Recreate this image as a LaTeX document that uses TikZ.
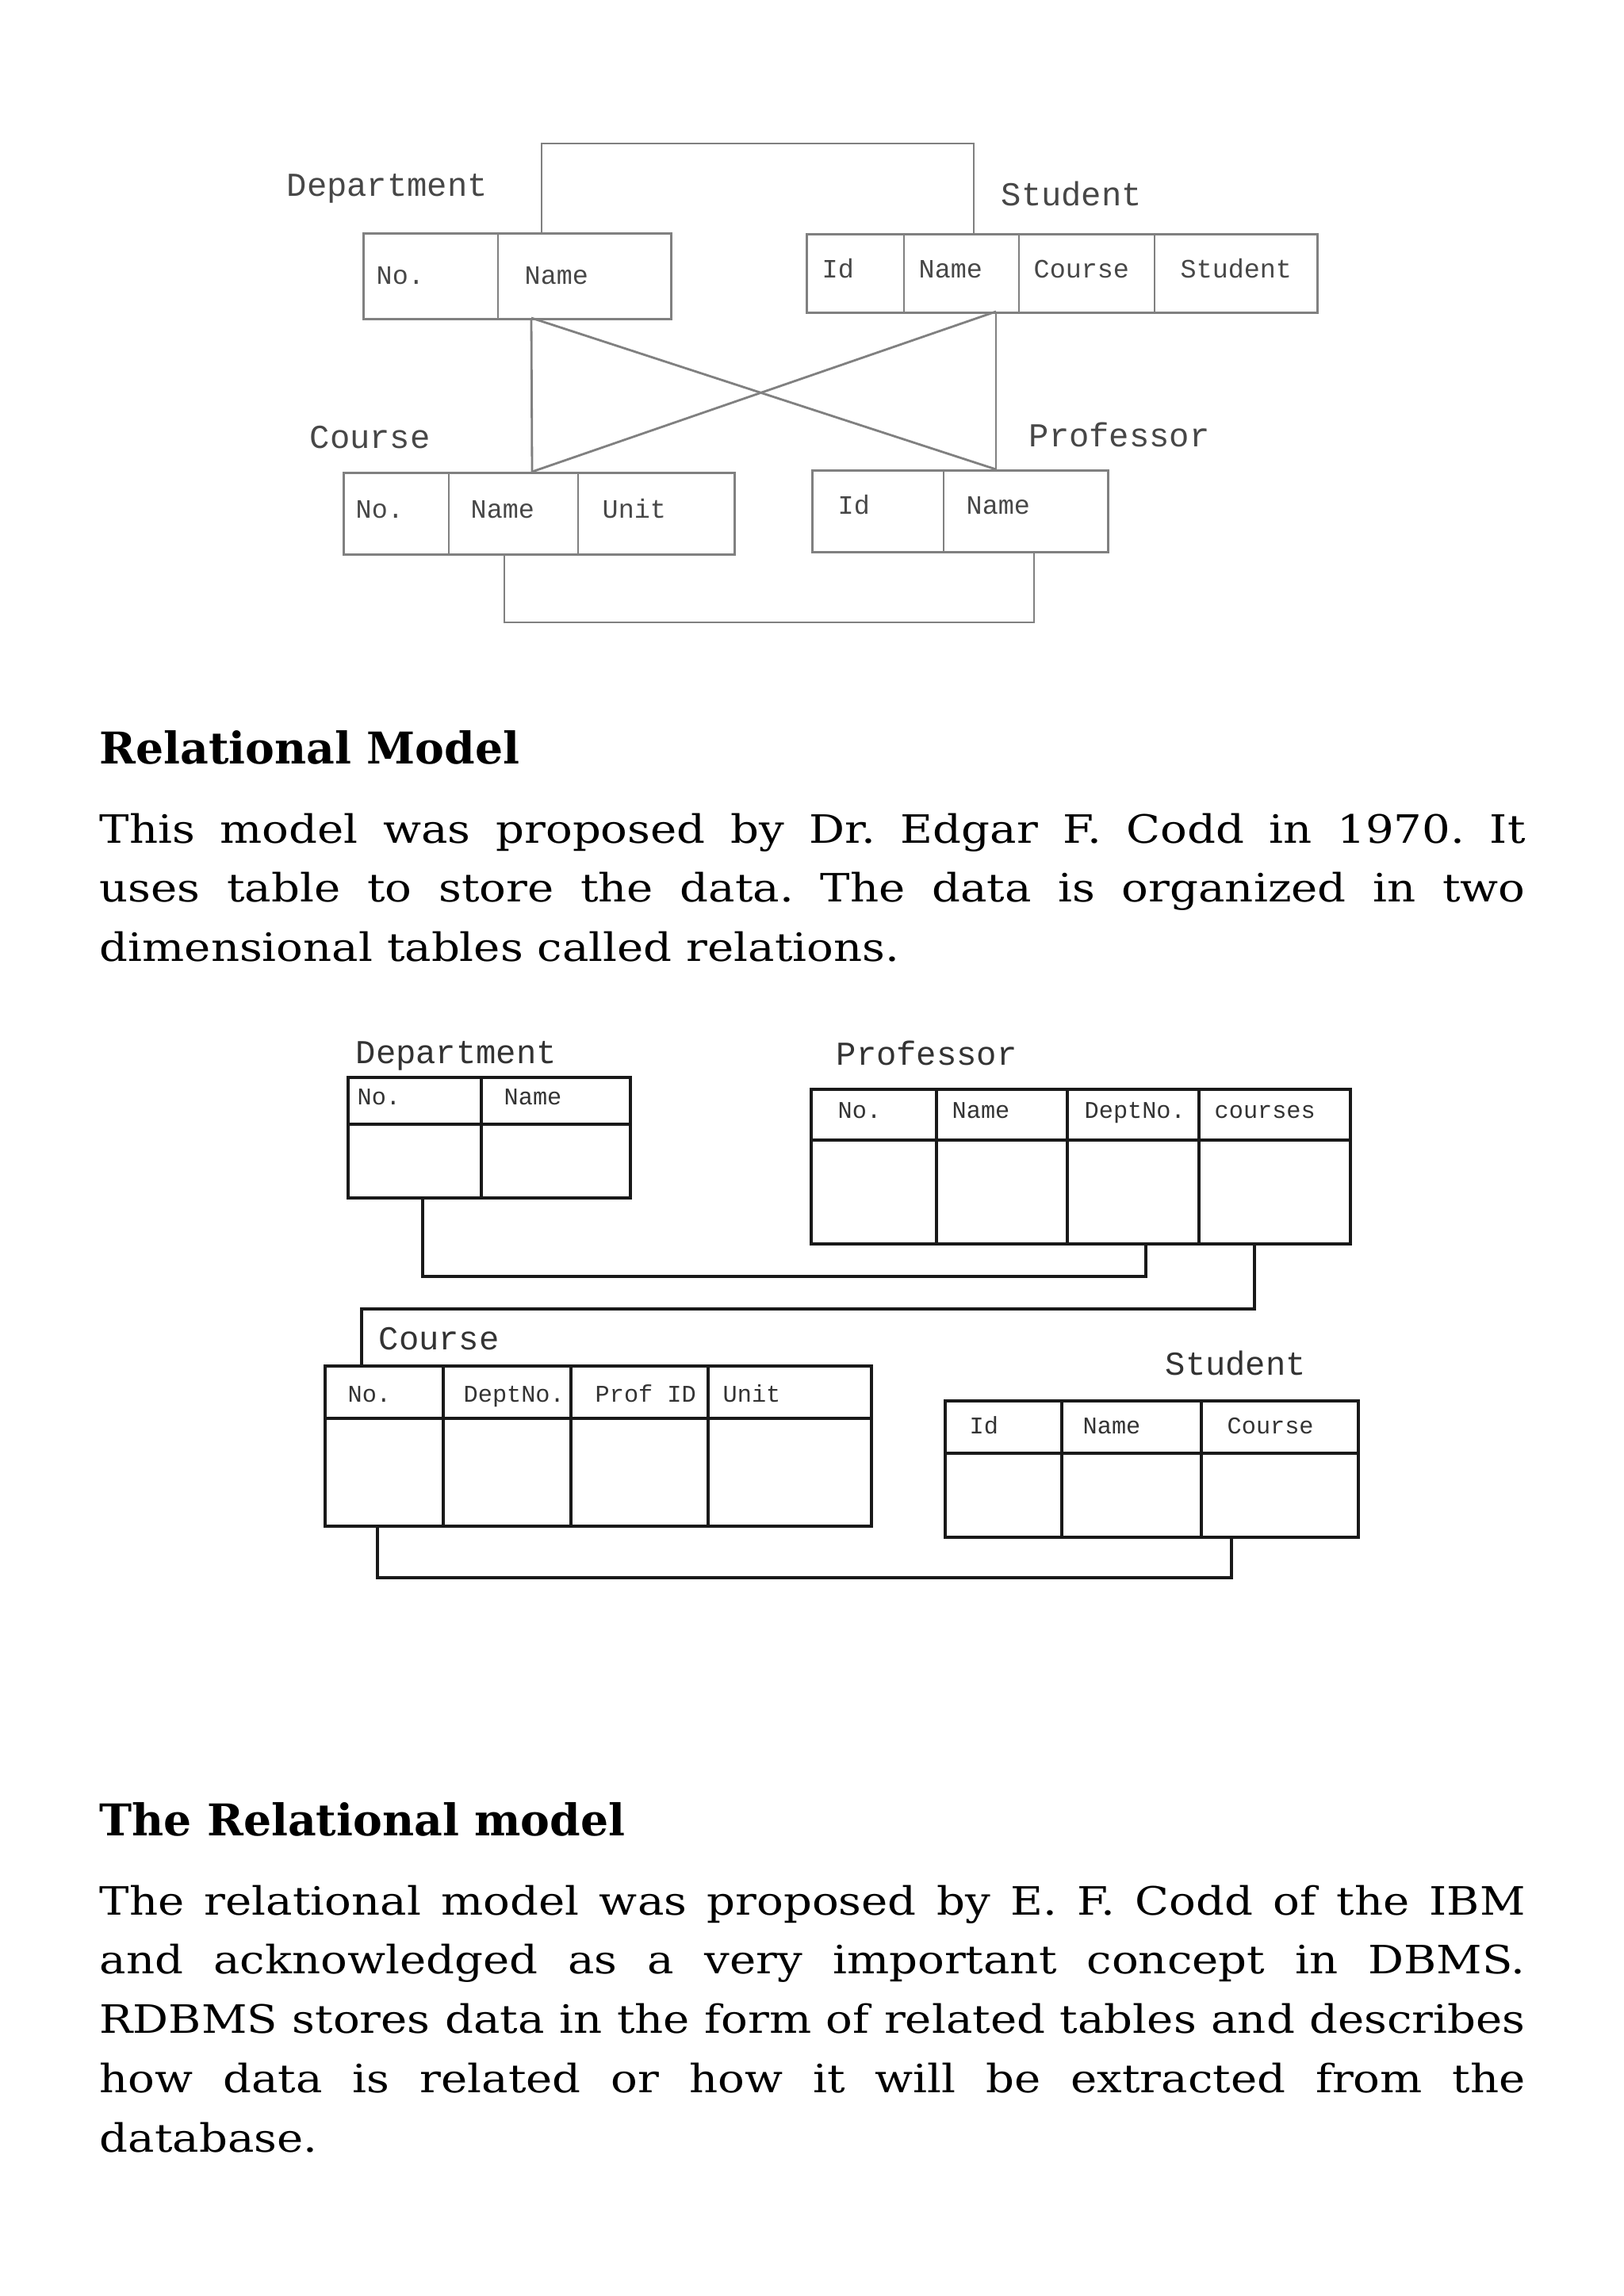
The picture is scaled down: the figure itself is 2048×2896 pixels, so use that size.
\documentclass[tikz,border=0pt]{standalone}
\usepackage{fontspec}
\setmainfont[FakeStretch=1.14]{DejaVu Serif}
\newfontfamily\headfont{DejaVu Serif}
\newfontfamily\courier{Liberation Mono}
\definecolor{oldline}{gray}{0.5}
\definecolor{oldtext}{gray}{0.28}
\definecolor{newline}{gray}{0.1}
\definecolor{newtext}{gray}{0.2}
\tolerance=10000
\frenchspacing
\tikzset{
  otable/.style={draw=oldline, line width=0.8pt, anchor=north west, inner sep=0pt},
  ntable/.style={draw=newline, line width=1pt, anchor=north west, inner sep=0pt},
  oline/.style={draw=oldline, line width=0.8pt},
  nline/.style={draw=newline, line width=1pt},
  olabel/.style={anchor=base west, inner sep=0pt, text=oldtext, font=\courier\fontsize{12pt}{14pt}\selectfont},
  nlabel/.style={olabel, text=newtext},
  ocell/.style={anchor=base west, inner sep=0pt, text=oldtext, font=\courier\fontsize{9.5pt}{11pt}\selectfont},
  ncell/.style={anchor=base west, inner sep=0pt, text=newtext, font=\courier\fontsize{8.6pt}{10pt}\selectfont},
  head/.style={anchor=base west, inner sep=0pt, font=\headfont\bfseries\fontsize{15.7pt}{18pt}\selectfont},
  para/.style={anchor=base west, inner sep=0pt, text width=17.97cm, align=justify,
    font=\fontsize{14pt}{21.3pt}\selectfont}
}
\begin{document}
\begin{tikzpicture}[x=0.01cm, y=-0.01cm]
        % ==== PAGE ====
        \fill[white] (0,0) rectangle (2048,2896);
        \useasboundingbox (0,0) rectangle (2048,2896);

        % ==== OLD DIAGRAM: DEPARTMENT ====
        \node[olabel] (o-dept) at (361,247) {Department};
        \node[otable, minimum width=3.88cm, minimum height=1.08cm] (odept) at (457,293) {};
        \draw[oline] (628,293) -- (628,401);
        \node[ocell] (od-no) at (474,358) {No.};
        \node[ocell] (od-name) at (661,358) {Name};

        % ==== OLD DIAGRAM: STUDENT ====
        \node[olabel] (o-stud) at (1262,259) {Student};
        \node[otable, minimum width=6.44cm, minimum height=0.99cm] (ostud) at (1016,294) {};
        \foreach \x in {1140,1285,1456}
            \draw[oline] (\x,294) -- (\x,393);
        \node[ocell] (os-id) at (1036,350) {Id};
        \node[ocell] (os-name) at (1158,350) {Name};
        \node[ocell] (os-course) at (1303,350) {Course};
        \node[ocell] (os-stud) at (1488,350) {Student};

        % ==== OLD DIAGRAM: COURSE ====
        \node[olabel] (o-course) at (390,565) {Course};
        \node[otable, minimum width=4.93cm, minimum height=1.03cm] (ocourse) at (432,595) {};
        \foreach \x in {566,729}
            \draw[oline] (\x,595) -- (\x,698);
        \node[ocell] (oc-no) at (448,653) {No.};
        \node[ocell] (oc-name) at (593,653) {Name};
        \node[ocell] (oc-unit) at (759,653) {Unit};

        % ==== OLD DIAGRAM: PROFESSOR ====
        \node[olabel] (o-prof) at (1297,563) {Professor};
        \node[otable, minimum width=3.73cm, minimum height=1.03cm] (oprof) at (1023,592) {};
        \draw[oline] (1190,592) -- (1190,695);
        \node[ocell] (op-id) at (1056,648) {Id};
        \node[ocell] (op-name) at (1218,648) {Name};

        % ==== OLD DIAGRAM: LINKS ====
        \coordinate (od-top) at (683,293);
        \coordinate (od-bot) at (670,401);
        \coordinate (os-top) at (1228,294);
        \coordinate (os-bot) at (1256,393);
        \coordinate (oc-top) at (671,595);
        \coordinate (oc-bot) at (636,698);
        \coordinate (op-top) at (1256,592);
        \coordinate (op-bot) at (1304,695);
        \coordinate (o-up) at (955,181);
        \coordinate (o-down) at (970,785);
        \draw[oline] (od-top) |- (o-up) -| (os-top);
        \draw[oline] (od-bot) -- (oc-top);
        \draw[oline] (od-bot) -- (op-top);
        \draw[oline] (os-bot) -- (oc-top);
        \draw[oline] (os-bot) -- (op-top);
        \draw[oline] (oc-bot) |- (o-down) -| (op-bot);

        % ==== TEXT: RELATIONAL MODEL ====
        \node[head] (h-one) at (125,963) {Relational Model};
        \node[para] (p-one) at (125,1063) {This model was proposed by Dr. Edgar F. Codd in 1970. It\linebreak
            uses table to store the data. The data is organized in two\linebreak
            dimensional tables called relations.};

        % ==== NEW DIAGRAM: DEPARTMENT ====
        \node[nlabel] (n-dept) at (448,1341) {Department};
        \node[ntable, minimum width=3.56cm, minimum height=1.52cm] (ndept) at (437,1357) {};
        \draw[nline] (607,1357) -- (607,1509);
        \draw[nline] (437,1418) -- (793,1418);
        \node[ncell] (nd-no) at (450,1393) {No.};
        \node[ncell] (nd-name) at (635,1393) {Name};

        % ==== NEW DIAGRAM: PROFESSOR ====
        \node[nlabel] (n-prof) at (1054,1343) {Professor};
        \node[ntable, minimum width=6.80cm, minimum height=1.95cm] (nprof) at (1021,1372) {};
        \foreach \x in {1181,1346,1512}
            \draw[nline] (\x,1372) -- (\x,1567);
        \draw[nline] (1021,1438) -- (1701,1438);
        \node[ncell] (np-no) at (1056,1410) {No.};
        \node[ncell] (np-name) at (1200,1410) {Name};
        \node[ncell] (np-dept) at (1367,1410) {DeptNo.};
        \node[ncell] (np-courses) at (1531,1410) {courses};

        % ==== NEW DIAGRAM: COURSE ====
        \node[nlabel] (n-course) at (477,1702) {Course};
        \node[ntable, minimum width=6.89cm, minimum height=2.02cm] (ncourse) at (408,1721) {};
        \foreach \x in {559,720,893}
            \draw[nline] (\x,1721) -- (\x,1923);
        \draw[nline] (408,1789) -- (1097,1789);
        \node[ncell] (nc-no) at (438,1768) {No.};
        \node[ncell] (nc-dept) at (584,1768) {DeptNo.};
        \node[ncell] (nc-prof) at (750,1768) {Prof ID};
        \node[ncell] (nc-unit) at (911,1768) {Unit};

        % ==== NEW DIAGRAM: STUDENT ====
        \node[nlabel] (n-stud) at (1469,1734) {Student};
        \node[ntable, minimum width=5.21cm, minimum height=1.72cm] (nstud) at (1190,1765) {};
        \foreach \x in {1339,1515}
            \draw[nline] (\x,1765) -- (\x,1937);
        \draw[nline] (1190,1833) -- (1711,1833);
        \node[ncell] (ns-id) at (1222,1808) {Id};
        \node[ncell] (ns-name) at (1365,1808) {Name};
        \node[ncell] (ns-course) at (1547,1808) {Course};

        % ==== NEW DIAGRAM: LINKS ====
        \coordinate (nd-bot) at (533,1509);
        \coordinate (np-bot1) at (1445,1567);
        \coordinate (np-bot2) at (1582,1567);
        \coordinate (nc-top) at (456,1721);
        \coordinate (nc-bot) at (476,1923);
        \coordinate (ns-bot) at (1553,1937);
        \coordinate (n-low1) at (990,1610);
        \coordinate (n-low2) at (1020,1651);
        \coordinate (n-low3) at (1015,1990);
        \draw[nline] (nd-bot) |- (n-low1) -| (np-bot1);
        \draw[nline] (np-bot2) |- (n-low2) -| (nc-top);
        \draw[nline] (nc-bot) |- (n-low3) -| (ns-bot);

        % ==== TEXT: THE RELATIONAL MODEL ====
        \node[head] (h-two) at (125,2315) {The Relational model};
        \node[para] (p-two) at (125,2415) {The relational model was proposed by E. F. Codd of the IBM\linebreak
            and acknowledged as a very important concept in DBMS.\linebreak
            RDBMS stores data in the form of related tables and describes\linebreak
            how data is related or how it will be extracted from the\linebreak
            database.};
\end{tikzpicture}
\end{document}
